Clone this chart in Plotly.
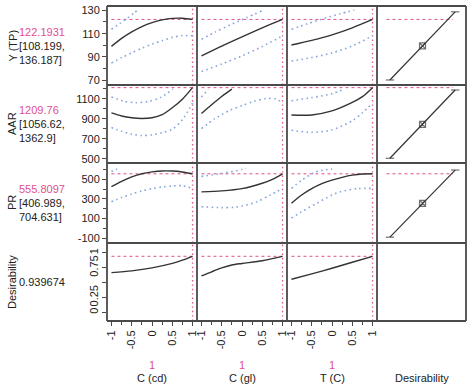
import plotly.graph_objects as go

# ---------------- data ----------------
factors = ["C (cd)", "C (gl)", "T (C)"]
responses = ["Y (TP)", "AAR", "PR"]
factor_setting = [1, 1, 1]
current_pred = [122.1931, 1209.76, 555.8097]
ci_low = [108.199, 1056.62, 406.989]
ci_high = [136.187, 1362.9, 704.631]
desirability_value = 0.939674

# prediction traces: [response][factor] -> (x, y)
tp_cd_x = [-1, -0.75, -0.5, -0.25, 0, 0.25, 0.5, 0.75, 1]
tp_cd_y = [99.1, 105.9, 111.5, 116.1, 119.5, 121.8, 123.1, 123.2, 122.19]
tp_cd_up_x = [-1, -0.8, -0.6, -0.45, -0.34]
tp_cd_up_y = [113.8, 118.5, 123.5, 127.5, 130.5]
tp_cd_lo_x = [-1, -0.75, -0.5, -0.25, 0, 0.25, 0.5, 0.75, 1]
tp_cd_lo_y = [84.8, 89.5, 93.5, 97.5, 101, 104, 106.8, 108.3, 108.2]

tp_gl_x = [-1, -0.5, 0, 0.5, 1]
tp_gl_y = [91, 99.4, 107.3, 115, 122.19]
tp_gl_up_x = [-1, -0.65, -0.3, 0.1, 0.5]
tp_gl_up_y = [105.2, 111.5, 117.4, 123.5, 129.7]
tp_gl_lo_x = [-1, -0.5, 0, 0.5, 1]
tp_gl_lo_y = [77.5, 84, 91, 99, 108.2]

tp_t_x = [-1, -0.5, 0, 0.5, 1]
tp_t_y = [100.3, 104.3, 109, 115, 122.19]
tp_t_up_x = [-1, -0.6, -0.2, 0.2, 0.55]
tp_t_up_y = [113.7, 118.5, 123, 127, 130.3]
tp_t_lo_x = [-1, -0.5, 0, 0.5, 1]
tp_t_lo_y = [86.5, 89.5, 93.5, 99.5, 108.2]

aar_cd_x = [-1, -0.75, -0.5, -0.25, 0, 0.25, 0.5, 0.75, 1]
aar_cd_y = [958, 928, 910, 903, 910, 941, 1010, 1095, 1209.76]
aar_cd_up_x = [-1, -0.7, -0.4, -0.1, 0.2, 0.52]
aar_cd_up_y = [1117, 1075, 1060, 1072, 1110, 1195]
aar_cd_lo_x = [-1, -0.75, -0.5, -0.25, 0, 0.25, 0.5, 0.75, 1]
aar_cd_lo_y = [812, 775, 748, 733, 740, 762, 795, 890, 1056.6]

aar_gl_x = [-1, -0.75, -0.5, -0.25]
aar_gl_y = [953, 1040, 1122, 1195]
aar_gl_up_x = [-1, -0.83]
aar_gl_up_y = [1117, 1193]
aar_gl_lo_x = [-1, -0.67, -0.3, 0, 0.3, 0.58, 0.83, 1]
aar_gl_lo_y = [802, 901, 985, 1030, 1075, 1100, 1098, 1056.6]

aar_t_x = [-1, -0.5, 0, 0.5, 0.75, 1]
aar_t_y = [938, 938, 978, 1062, 1120, 1209.76]
aar_t_up_x = [-1, -0.5, 0, 0.3]
aar_t_up_y = [1080, 1110, 1150, 1195]
aar_t_lo_x = [-1, -0.5, 0, 0.5, 0.75, 1]
aar_t_lo_y = [785, 765, 790, 880, 960, 1056.6]

pr_cd_x = [-1, -0.75, -0.5, -0.25, 0, 0.25, 0.5, 0.75, 1]
pr_cd_y = [425, 480, 525, 557, 575, 585, 584, 574, 555.81]
pr_cd_up_x = [-1, -0.86]
pr_cd_up_y = [580, 605]
pr_cd_lo_x = [-1, -0.75, -0.5, -0.25, 0, 0.25, 0.5, 0.75, 1]
pr_cd_lo_y = [272, 315, 350, 382, 405, 422, 432, 435, 407]

pr_gl_x = [-1, -0.5, 0, 0.5, 0.75, 1]
pr_gl_y = [372, 382, 405, 460, 500, 555.81]
pr_gl_up_x = [-1, -0.5, 0, 0.1]
pr_gl_up_y = [530, 560, 600, 612]
pr_gl_lo_x = [-1, -0.5, -0.2, 0, 0.37, 0.7, 1]
pr_gl_lo_y = [220, 212, 215, 228, 272, 340, 407]

pr_t_x = [-1, -0.75, -0.5, -0.25, 0, 0.25, 0.5, 0.75, 1]
pr_t_y = [256, 340, 405, 455, 492, 520, 542, 554, 555.81]
pr_t_up_x = [-1, -0.75, -0.4, 0]
pr_t_up_y = [408, 490, 575, 605]
pr_t_lo_x = [-1, -0.75, -0.375, 0, 0.21, 0.63, 1]
pr_t_lo_y = [105, 170, 256, 340, 374, 405, 407]

des_cd_x = [-1, -0.5, 0, 0.5, 0.75, 1]
des_cd_y = [0.665, 0.695, 0.745, 0.82, 0.875, 0.9397]
des_gl_x = [-1, -0.75, -0.5, -0.25, 0, 0.5, 1]
des_gl_y = [0.61, 0.68, 0.745, 0.794, 0.82, 0.865, 0.9397]
des_t_x = [-1, -0.5, 0, 0.5, 1]
des_t_y = [0.555, 0.645, 0.74, 0.84, 0.9397]

# desirability functions (desirability -> response)
desfun_x = [0.11, 0.58, 1.05]
desfun_tp = [70.3, 99.5, 128.7]
desfun_aar = [507, 845, 1186]
desfun_pr = [-89, 256, 594]

x_ticks = [-1, -0.5, 0, 0.5, 1]
x_ticktext = ["-1", "-0.5", "0", "0.5", "1"]
d_ticks = [0, 0.25, 0.5, 0.75, 1]
d_ticktext = ["0", "0.25", "0.5", "0.75", "1"]
y_ticks = [[70, 90, 110, 130], [500, 700, 900, 1100], [-100, 100, 300, 500], [0, 0.25, 0.5, 0.75, 1]]
y_ticktext = [["70", "90", "110", "130"], ["500", "700", "900", "1100"],
              ["-100", "100", "300", "500"], ["0", "0.25", "", "0.75", "1"]]

# ---------------- layout constants ----------------
W, H = 474, 390
col_px = [(107, 197), (197, 287), (287, 377), (377, 466)]
row_px = [(6, 85), (85, 163), (163, 243), (243, 321)]
y_ranges = [[66, 133.7], [460, 1236], [-148, 665.8], [-0.146, 1.163]]
y_minor = [10, 100, 100, None]
x_range = [-1.11, 1.11]
d_range = [-0.076, 1.206]

PINK = "#e0508f"
BLUE = "#86a6dc"
DARK = "#333333"
FRAME = "#4a4a4a"
FONT = "Liberation Sans, Arial, sans-serif"
BAND_DASH = "1.6px,3.4px"
VLINE_DASH = "1.4px,3px"
HLINE_DASH = "3px,3px"

pred = {
    (0, 0): (tp_cd_x, tp_cd_y, tp_cd_up_x, tp_cd_up_y, tp_cd_lo_x, tp_cd_lo_y),
    (0, 1): (tp_gl_x, tp_gl_y, tp_gl_up_x, tp_gl_up_y, tp_gl_lo_x, tp_gl_lo_y),
    (0, 2): (tp_t_x, tp_t_y, tp_t_up_x, tp_t_up_y, tp_t_lo_x, tp_t_lo_y),
    (1, 0): (aar_cd_x, aar_cd_y, aar_cd_up_x, aar_cd_up_y, aar_cd_lo_x, aar_cd_lo_y),
    (1, 1): (aar_gl_x, aar_gl_y, aar_gl_up_x, aar_gl_up_y, aar_gl_lo_x, aar_gl_lo_y),
    (1, 2): (aar_t_x, aar_t_y, aar_t_up_x, aar_t_up_y, aar_t_lo_x, aar_t_lo_y),
    (2, 0): (pr_cd_x, pr_cd_y, pr_cd_up_x, pr_cd_up_y, pr_cd_lo_x, pr_cd_lo_y),
    (2, 1): (pr_gl_x, pr_gl_y, pr_gl_up_x, pr_gl_up_y, pr_gl_lo_x, pr_gl_lo_y),
    (2, 2): (pr_t_x, pr_t_y, pr_t_up_x, pr_t_up_y, pr_t_lo_x, pr_t_lo_y),
}
des_curves = [(des_cd_x, des_cd_y), (des_gl_x, des_gl_y), (des_t_x, des_t_y)]
desfun = [desfun_tp, desfun_aar, desfun_pr]

fig = go.Figure()
layout = {}
shapes = []
annotations = []


def ax_id(r, c):
    return r * 4 + c + 1


def refs(k):
    return ("x" if k == 1 else f"x{k}"), ("y" if k == 1 else f"y{k}")


for r in range(4):
    for c in range(4):
        k = ax_id(r, c)
        xr, yr = refs(k)
        xname = "xaxis" if k == 1 else f"xaxis{k}"
        yname = "yaxis" if k == 1 else f"yaxis{k}"
        x0, x1 = col_px[c]
        y0, y1 = row_px[r]
        is_bottom = r == 3
        is_left = c == 0
        xa = dict(domain=[x0 / W, x1 / W], anchor=yr,
                  range=(d_range if c == 3 else x_range), automargin=False,
                  showgrid=False, zeroline=False, showline=False, fixedrange=True,
                  tickfont=dict(family=FONT, size=11, color="#222"))
        if is_bottom:
            xa.update(tickmode="array",
                      tickvals=(d_ticks if c == 3 else x_ticks),
                      ticktext=(d_ticktext if c == 3 else x_ticktext),
                      ticks="outside", ticklen=4, tickcolor=FRAME, tickwidth=1, tickangle=-90,
                      showticklabels=True)
            if c < 3:
                xa["minor"] = dict(ticks="outside", ticklen=3, dtick=0.25, tick0=0, tickcolor=FRAME)
        else:
            xa.update(ticks="", showticklabels=False)
        ya = dict(domain=[1 - y1 / H, 1 - y0 / H], anchor=xr, range=y_ranges[r], automargin=False,
                  showgrid=False, zeroline=False, showline=False, fixedrange=True,
                  tickfont=dict(family=FONT, size=11, color="#222"))
        if is_left:
            ya.update(tickmode="array", tickvals=y_ticks[r], ticktext=y_ticktext[r],
                      ticks="outside", ticklen=4, tickcolor=FRAME, tickwidth=1, showticklabels=True)
            if r == 3:
                ya["tickangle"] = -90
            if y_minor[r]:
                ya["minor"] = dict(ticks="outside", ticklen=3, dtick=y_minor[r], tick0=0, tickcolor=FRAME)
        else:
            ya.update(ticks="", showticklabels=False)
        layout[xname] = xa
        layout[yname] = ya

# response rows x factor columns
for r in range(3):
    for c in range(3):
        k = ax_id(r, c)
        xr, yr = refs(k)
        px, py, ux, uy, lx, ly = pred[(r, c)]
        for bx, by in ((ux, uy), (lx, ly)):
            fig.add_trace(go.Scatter(x=bx, y=by, xaxis=xr, yaxis=yr, mode="lines",
                                     line=dict(color=BLUE, width=1.6, dash=BAND_DASH, shape="spline", smoothing=0.8),
                                     hoverinfo="skip", showlegend=False))
        fig.add_trace(go.Scatter(x=px, y=py, xaxis=xr, yaxis=yr, mode="lines",
                                 line=dict(color=DARK, width=1.4, shape="spline", smoothing=0.8),
                                 showlegend=False))
        shapes.append(dict(type="line", xref=xr, yref=yr, x0=-1, x1=factor_setting[c],
                           y0=current_pred[r], y1=current_pred[r], layer="below",
                           line=dict(color=PINK, width=1, dash=HLINE_DASH)))
        shapes.append(dict(type="line", xref=xr, yref=f"{yr} domain", x0=factor_setting[c],
                           x1=factor_setting[c], y0=0, y1=1, layer="below",
                           line=dict(color=PINK, width=1.3, dash=VLINE_DASH)))

# desirability row
for c in range(3):
    k = ax_id(3, c)
    xr, yr = refs(k)
    dx, dy = des_curves[c]
    fig.add_trace(go.Scatter(x=dx, y=dy, xaxis=xr, yaxis=yr, mode="lines",
                             line=dict(color=DARK, width=1.4, shape="spline", smoothing=0.8),
                             showlegend=False))
    shapes.append(dict(type="line", xref=xr, yref=yr, x0=-1, x1=factor_setting[c],
                       y0=desirability_value, y1=desirability_value, layer="below",
                       line=dict(color=PINK, width=1, dash=HLINE_DASH)))
    shapes.append(dict(type="line", xref=xr, yref=f"{yr} domain", x0=factor_setting[c],
                       x1=factor_setting[c], y0=0, y1=1, layer="below",
                       line=dict(color=PINK, width=1.3, dash=VLINE_DASH)))

# desirability function column
for r in range(3):
    k = ax_id(r, 3)
    xr, yr = refs(k)
    fig.add_trace(go.Scatter(x=desfun_x, y=desfun[r], xaxis=xr, yaxis=yr, mode="lines+markers",
                             line=dict(color=DARK, width=1.2),
                             marker=dict(symbol=["line-ew-open", "square-x-open", "line-ew-open"],
                                         size=[6, 6, 6], color=DARK, line=dict(color=DARK, width=1.2)),
                             showlegend=False))
    shapes.append(dict(type="line", xref=xr, yref=yr, x0=0.06, x1=1.02,
                       y0=current_pred[r], y1=current_pred[r], layer="below",
                       line=dict(color=PINK, width=1, dash=HLINE_DASH)))

# panel frame (grid lines between panels)
gx0, gx1 = col_px[0][0], col_px[-1][1]
gy0, gy1 = row_px[0][0], row_px[-1][1]
for xb in [col_px[0][0]] + [b for _, b in col_px]:
    shapes.append(dict(type="line", xref="paper", yref="paper", x0=xb / W, x1=xb / W,
                       y0=1 - gy0 / H, y1=1 - gy1 / H, line=dict(color=FRAME, width=1.8)))
for yb in [row_px[0][0]] + [b for _, b in row_px]:
    shapes.append(dict(type="line", xref="paper", yref="paper", x0=gx0 / W, x1=gx1 / W,
                       y0=1 - yb / H, y1=1 - yb / H, line=dict(color=FRAME, width=1.8)))

# left labels
row_centers = [(a + b) / 2 for a, b in row_px]
for r in range(3):
    yc = row_centers[r]
    annotations.append(dict(text=responses[r], x=12 / W, y=1 - yc / H, xref="paper", yref="paper",
                            textangle=-90, showarrow=False, font=dict(family=FONT, size=11, color="#222"),
                            xanchor="center", yanchor="middle"))
    lines = [(str(current_pred[r]), PINK, yc - 14),
             (f"[{ci_low[r]},", "#222", yc),
             (f"{ci_high[r]}]", "#222", yc + 14)]
    for t, col, yy in lines:
        annotations.append(dict(text=t, x=17 / W, y=1 - yy / H, xref="paper", yref="paper",
                                showarrow=False, font=dict(family=FONT, size=11, color=col),
                                xanchor="left", yanchor="middle"))
annotations.append(dict(text="Desirability", x=12 / W, y=1 - row_centers[3] / H, xref="paper", yref="paper",
                        textangle=-90, showarrow=False, font=dict(family=FONT, size=11, color="#222"),
                        xanchor="center", yanchor="middle"))
annotations.append(dict(text=str(desirability_value), x=17 / W, y=1 - row_centers[3] / H,
                        xref="paper", yref="paper", showarrow=False,
                        font=dict(family=FONT, size=11, color="#222"), xanchor="left", yanchor="middle"))

# bottom labels
for c in range(4):
    xc = (col_px[c][0] + col_px[c][1]) / 2
    if c < 3:
        annotations.append(dict(text=str(factor_setting[c]), x=xc / W, y=1 - 365 / H, xref="paper",
                                yref="paper", showarrow=False, font=dict(family=FONT, size=11, color=PINK),
                                xanchor="center", yanchor="middle"))
    annotations.append(dict(text=(factors[c] if c < 3 else "Desirability"), x=xc / W, y=1 - 378 / H,
                            xref="paper", yref="paper", showarrow=False,
                            font=dict(family=FONT, size=11, color="#222"), xanchor="center", yanchor="middle"))

fig.update_layout(width=W, height=H, autosize=False, margin=dict(l=0, r=0, t=0, b=0, pad=0),
                  paper_bgcolor="white", plot_bgcolor="white", showlegend=False,
                  shapes=shapes, annotations=annotations, **layout)
fig.write_html("out.html", config={"displayModeBar": False, "staticPlot": False},
               post_script="document.body.style.margin='0px';document.body.style.overflow='hidden';")
